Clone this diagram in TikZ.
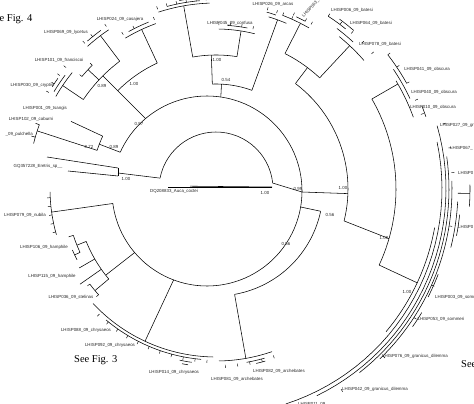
\documentclass[tikz,border=0pt]{standalone}
\usepackage{fontspec}
\newfontfamily\lblfont{Liberation Sans}
\newfontfamily\seefont{Liberation Serif}
\usepackage{tikz}

\tikzset{
  br/.style={line width=0.55pt, black},
  tip/.style={line width=0.45pt, black},
  taxon/.style={font=\lblfont\fontsize{4.4}{5}\selectfont, text=black!85, inner sep=0pt},
  supp/.style={font=\lblfont\fontsize{4.4}{5}\selectfont, text=black!85, inner sep=0pt},
  seefig/.style={font=\seefont\fontsize{10.5}{12}\selectfont, inner sep=0pt, anchor=west}
}
% arcs and radial branches about the tree centre (216,189)
\newcommand{\parc}[3]{\draw[br] plot[domain=#2:#3, samples=30, variable=\t] ({216+#1*cos(\t)},{189+#1*sin(\t)});}
\newcommand{\prad}[3]{\draw[br] ({216+#2*cos(#1)},{189+#2*sin(#1)}) -- ({216+#3*cos(#1)},{189+#3*sin(#1)});}
\newcommand{\ptick}[2]{\draw[tip] ({216+#2*cos(#1)},{189+#2*sin(#1)}) -- ({216+(#2+3)*cos(#1)},{189+(#2+3)*sin(#1)});}

\begin{document}
\begin{tikzpicture}[x=1pt,y=-1pt]
\useasboundingbox (0,0) rectangle (474,404);
\clip (0,0) rectangle (474,404);

% root arc, outgroups
\parc{57}{191}{354}
\draw[br] ({216+57*cos(191)},{189+57*sin(191)}) -- (118,173);
\draw[br] (118,168) -- (118,176);
\draw[br] (118,168) -- (47,157);
\draw[br] (118,176) -- (68,171);
\draw[br] (168,187) -- (272,187);
\draw[br] (190,186.2) -- (272,187);
\draw[br] ({216+57*cos(354)},{189+57*sin(354)}) -- ({216+86*cos(2)},{189+86*sin(2)});

% main ring
\draw[br] plot[domain=204:532.4, samples=140, variable=\t] ({207+95*cos(\t)},{191+95*sin(\t)});

% See Fig. 4 clade
\prad{-135}{100}{160}
\parc{139}{-135}{-115}
\prad{-115}{139}{176}
\parc{176}{-121}{-110}
\parc{180}{-119}{-112}
\foreach \a in {-121,-117,-110} {\ptick{\a}{180}}
\parc{160}{-146}{-127}
\prad{-127}{160}{192}
\parc{192}{-132}{-124}
\parc{196}{-131}{-126}
\foreach \a in {-132,-129,-124} {\ptick{\a}{196}}
\prad{-137}{160}{175}
\parc{175}{-140}{-135}
\foreach \a in {-140,-135} {\ptick{\a}{175}}
\prad{-146}{160}{185}
\parc{185}{-150}{-141}
\parc{189}{-149}{-143}
\parc{193}{-148}{-145}
\foreach \a in {-150,-147,-144,-141} {\ptick{\a}{193}}
\prad{-159}{103}{125}
\parc{125}{-162}{-155}
\prad{-155}{125}{160}
\prad{-162}{125}{188}
\parc{188}{-166}{-160}
\prad{-160}{188}{192}
\prad{-164}{188}{192}

% nubila, hamphile, stelinas
\prad{172}{104}{166}
\parc{166}{164}{179}
\foreach \a in {165,168,...,178} {\ptick{\a}{166}}
\prad{142}{103}{140}
\parc{140}{140}{158}
\prad{158}{140}{150}
\parc{150}{155}{162}
\prad{155}{150}{156}
\prad{162}{150}{155}
\parc{156}{153}{157}
\prad{150}{140}{158}
\prad{145}{140}{166}
\prad{140}{140}{158}
\parc{158}{138}{143}
\foreach \a in {138,143} {\ptick{\a}{158}}

% chrysaeos
\prad{115}{100}{168}
\parc{168}{91}{137}
\parc{171}{95}{130}
\parc{175}{98}{102}
\parc{178}{99}{101}
\foreach \a in {93,97,...,135} {\ptick{\a}{171}}

% archebates
\parc{107}{12}{80}
\prad{12}{86.5}{107}
\prad{80}{107}{172}
\parc{172}{71}{89}
\parc{176}{74}{80}
\parc{179}{74}{77}
\foreach \a in {71,75,...,89} {\ptick{\a}{176}}

% top clade
\prad{-87}{92}{105}
\parc{105}{-92}{-70}
\prad{-92}{105}{134}
\parc{134}{-100}{-81}
\prad{-100}{134}{186}
\parc{186}{-108}{-92}
\parc{189}{-105}{-95}
\parc{192}{-101}{-91}
\foreach \a in {-108,-105,...,-91} {\ptick{\a}{189}}
\prad{-81}{134}{160}
\parc{160}{-89}{-76}
\parc{164}{-86}{-79}
\foreach \a in {-89,-85,-81,-77} {\ptick{\a}{164}}
\prad{-70}{105}{180}
\parc{180}{-73}{-67}
\parc{184}{-74}{-71}
\parc{186}{-69}{-66}
\foreach \a in {-74,-71,-69,-66} {\ptick{\a}{186}}

% right clades
\prad{2}{86}{132}
\parc{132}{-53}{14}
\prad{-53}{132}{152}
\parc{152}{-63}{-47}
\prad{-63}{152}{186}
\parc{186}{-66}{-60}
\parc{190}{-65}{-62}
\foreach \a in {-66,-62,-60} {\ptick{\a}{190}}
\prad{-47}{152}{196}
\parc{196}{-51}{-41}
\parc{201}{-53}{-47}
\parc{206}{-57}{-51}
\parc{210}{-54}{-49}
\foreach \a in {-57,-53,-49,-45,-41} {\ptick{\a}{206}}
\draw[br] ({216+132*cos(14)},{189+132*sin(14)}) -- ({216+180*cos(16)},{189+180*sin(16)});
\parc{180}{-30}{25}
\prad{-30}{180}{210}
\parc{210}{-31}{-20}
\parc{214}{-34}{-25}
\parc{218}{-38}{-29}
\parc{222}{-22}{-19}
\foreach \a in {-38,-34,-29,-24,-20} {\ptick{\a}{218}}

% granicus / sommeri bundle
\prad{25}{180}{222}
\parc{222}{10}{40}
\parc{226}{-12}{72}
\parc{230}{-16}{64}
\parc{233}{-8}{52}
\parc{236}{-2}{46}
\parc{242}{3}{14}
\prad{1}{242}{254}
\parc{254}{-1}{4}
\parc{245}{6}{11}
\parc{238}{21}{27}
\parc{240}{31}{35}
\foreach \a in {-16,-10,-4,9,24,33,45,58,66} {\ptick{\a}{236}}

% taxa
\node[taxon] (casajera) at (120,19) {LHISP024\_09\_casajera};
\node[taxon] (lycetus) at (66,32) {LHISP069\_09\_lycetus};
\node[taxon] (franciscoi) at (59,60) {LHISP101\_09\_franciscoi};
\node[taxon] (cryptis) at (32,85) {LHISP030\_09\_cryptis};
\node[taxon] (tsangis) at (45,108) {LHISP001\_09\_tsangis};
\node[taxon] (caburni) at (31,119) {LHISP102\_09\_caburni};
\node[taxon, anchor=east] (pulchella) at (33,134) {\_09\_pulchella};
\node[taxon] (eretris) at (38,166) {GQ357228\_Eretris\_sp\_\_};
\node[taxon, anchor=west] (auca) at (150,191) {DQ208833\_Auca\_coctei};
\node[taxon] (nubila) at (25,215) {LHISP079\_09\_nubila};
\node[taxon] (ham106) at (44,247) {LHISP106\_09\_hamphile};
\node[taxon] (ham115) at (52,276) {LHISP115\_09\_hamphile};
\node[taxon] (stelinas) at (71,297) {LHISP036\_09\_stelinas};
\node[taxon] (chry088) at (86,330) {LHISP088\_09\_chrysaeos};
\node[taxon] (chry092) at (110,345) {LHISP092\_09\_chrysaeos};
\node[taxon] (chry014) at (174,372) {LHISP014\_09\_chrysaeos};
\node[taxon] (arch081) at (237,379) {LHISP081\_09\_archebates};
\node[taxon] (arch082) at (279,371) {LHISP082\_09\_archebates};
\node[taxon, anchor=west] (bottomcut) at (298,404) {LHISP011\_09};
\node[taxon] (gran042) at (375,389) {LHISP042\_09\_granicus\_dilemma};
\node[taxon] (gran076) at (415,356) {LHISP076\_09\_granicus\_dilemma};
\node[taxon] (somm053) at (441,319) {LHISP053\_09\_sommeri};
\node[taxon, anchor=west] (somm003) at (435,297) {LHISP003\_09\_sommeri};
\node[taxon, anchor=west] (edge027) at (440,125) {LHISP027\_09\_gr};
\node[taxon, anchor=west] (edge067) at (450,148) {LHISP067\_};
\node[taxon, anchor=west] (edgeA) at (458,173) {LHISP0};
\node[taxon, anchor=west] (edgeB) at (458,227) {LHISP0};
\node[taxon] (obsc041) at (427,69) {LHISP041\_09\_obscura};
\node[taxon] (obsc040) at (434,92) {LHISP040\_09\_obscura};
\node[taxon] (obsc010) at (433,107) {LHISP010\_09\_obscura};
\node[taxon] (bate006) at (352,10) {LHISP006\_09\_batesi};
\node[taxon] (bate064) at (371,23) {LHISP064\_09\_batesi};
\node[taxon] (bate078) at (380,44) {LHISP078\_09\_batesi};
\node[taxon, anchor=west, rotate=48] (bate063) at (303,17) {LHISP063\_09\_batesi};
\node[taxon] (confusa) at (230,23) {LHISP045\_09\_confusa};
\node[taxon] (arcas) at (273,4) {LHISP026\_09\_arcas};

% support values
\node[supp] (s1) at (139,124) {0.97};
\node[supp] (s2) at (114,147) {0.89};
\node[supp] (s3) at (89,147) {0.72};
\node[supp] (s4) at (134,84) {1.00};
\node[supp] (s5) at (102,86) {0.89};
\node[supp] (s6) at (126,179) {1.00};
\node[supp] (s7) at (265,193) {1.00};
\node[supp] (s8) at (298,189) {0.99};
\node[supp] (s9) at (226,80) {0.54};
\node[supp] (s10) at (217,60) {1.00};
\node[supp] (s11) at (343,188) {1.00};
\node[supp] (s12) at (330,215) {0.56};
\node[supp] (s13) at (286,244) {0.56};
\node[supp] (s14) at (384,238) {1.00};
\node[supp] (s15) at (407,292) {1.00};

\node[seefig] (fig4) at (-11,19) {See Fig. 4};
\node[seefig] (fig3) at (74,360) {See Fig. 3};
\node[seefig] (figR) at (461,364) {See};
\end{tikzpicture}
\end{document}
